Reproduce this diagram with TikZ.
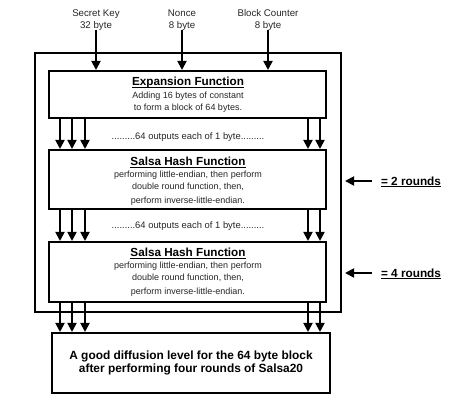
\documentclass[tikz,border=0pt]{standalone}
\usepackage{fontspec}
\setmainfont{Liberation Sans}
\usetikzlibrary{arrows.meta}
\newcommand\myul[1]{\setbox0\hbox{#1}\rlap{\rule[-1.9pt]{\wd0}{0.9pt}}\box0}
\begin{document}
\begin{tikzpicture}[x=1pt,y=-1pt,
  box/.style={draw=black,line width=2pt,minimum width=277pt,inner sep=0pt},
  arr/.style={line width=1.8pt,-{Triangle[length=9pt,width=9pt]}},
  ttl/.style={font=\fontsize{11.7}{13}\selectfont\bfseries,inner sep=0pt,anchor=base},
  body/.style={font=\fontsize{9}{10}\selectfont,inner sep=0pt,anchor=base,text=black!85},
  outs/.style={font=\fontsize{9.4}{10}\selectfont,inner sep=0pt,anchor=base,text=black!85},
  lab/.style={font=\fontsize{9.7}{11.5}\selectfont,inner sep=0pt,align=center,text=black!85},
  rnd/.style={font=\fontsize{11.8}{13}\selectfont\bfseries,inner sep=0pt,anchor=base}]
\useasboundingbox (0,0) rectangle (474,403);
% outer frame
\node[draw=black,line width=2pt,minimum width=306pt,minimum height=259pt,inner sep=0pt] (frame) at (188,182.5) {};
% boxes
\node[box,minimum height=47pt,fill=white] (exp) at (187.5,94.5) {};
\node[box,minimum height=59pt,fill=white] (s1) at (187.5,179.5) {};
\node[box,minimum height=60pt,fill=white] (s2) at (187.5,272) {};
\node[box,minimum width=278pt,minimum height=60pt,fill=white] (fin) at (191,363) {};
% top labels
\node[lab] (sk) at (96,20) {Secret Key\\32 byte};
\node[lab] (nc) at (182,20) {Nonce\\8 byte};
\node[lab] (bc) at (268,20) {Block Counter\\8 byte};
\draw[arr] (sk.south) -- (sk.south |- exp.north);
\draw[arr] (nc.south) -- (nc.south |- exp.north);
\draw[arr] (bc.south) -- (bc.south |- exp.north);
% expansion text
\node[ttl] (expt) at (188,86) {\myul{Expansion Function}};
\node[body] (expl1) at (188,99) {Adding 16 bytes of constant};
\node[body] (expl2) at (188,111) {to form a block of 64 bytes.};
% outputs 1
\node[outs] (o1) at (188,140) {.........64 outputs each of 1 byte.........};
\foreach \x in {60,72,85,308,320} {
  \coordinate (a\x) at (\x,0);
  \draw[arr] (exp.south -| a\x) -- (s1.north -| a\x);
}
% salsa 1
\node[ttl] (s1t) at (188,166) {\myul{Salsa Hash Function}};
\node[body] (s1l1) at (188,178) {performing little-endian, then perform};
\node[body] (s1l2) at (188,189.5) {double round function, then,};
\node[body] (s1l3) at (188,203.5) {perform inverse-little-endian.};
% outputs 2
\node[outs] (o2) at (188,229) {.........64 outputs each of 1 byte.........};
\foreach \x in {60,72,85,308,320} {
  \coordinate (b\x) at (\x,0);
  \draw[arr] (s1.south -| b\x) -- (s2.north -| b\x);
}
% salsa 2
\node[ttl] (s2t) at (188,257) {\myul{Salsa Hash Function}};
\node[body] (s2l1) at (188,269) {performing little-endian, then perform};
\node[body] (s2l2) at (188,280.5) {double round function, then,};
\node[body] (s2l3) at (188,295) {perform inverse-little-endian.};
% arrows to final
\foreach \x in {60,72,85,308,320} {
  \coordinate (c\x) at (\x,0);
  \draw[arr] (s2.south -| c\x) -- (fin.north -| c\x);
}
% final text
\node[font=\fontsize{11.9}{13.5}\selectfont\bfseries,align=center,inner sep=0pt] (fint) at (fin.center) {A good diffusion level for the 64 byte block\\after performing four rounds of Salsa20};
% rounds
\coordinate (r2s) at (372,181);
\coordinate (r2e) at (345,181);
\draw[arr] (r2s) -- (r2e);
\node[rnd] (r2) at (411,185.5) {\myul{= 2 rounds}};
\coordinate (r4s) at (372,273);
\coordinate (r4e) at (345,273);
\draw[arr] (r4s) -- (r4e);
\node[rnd] (r4) at (411,277.5) {\myul{= 4 rounds}};
\end{tikzpicture}
\end{document}
